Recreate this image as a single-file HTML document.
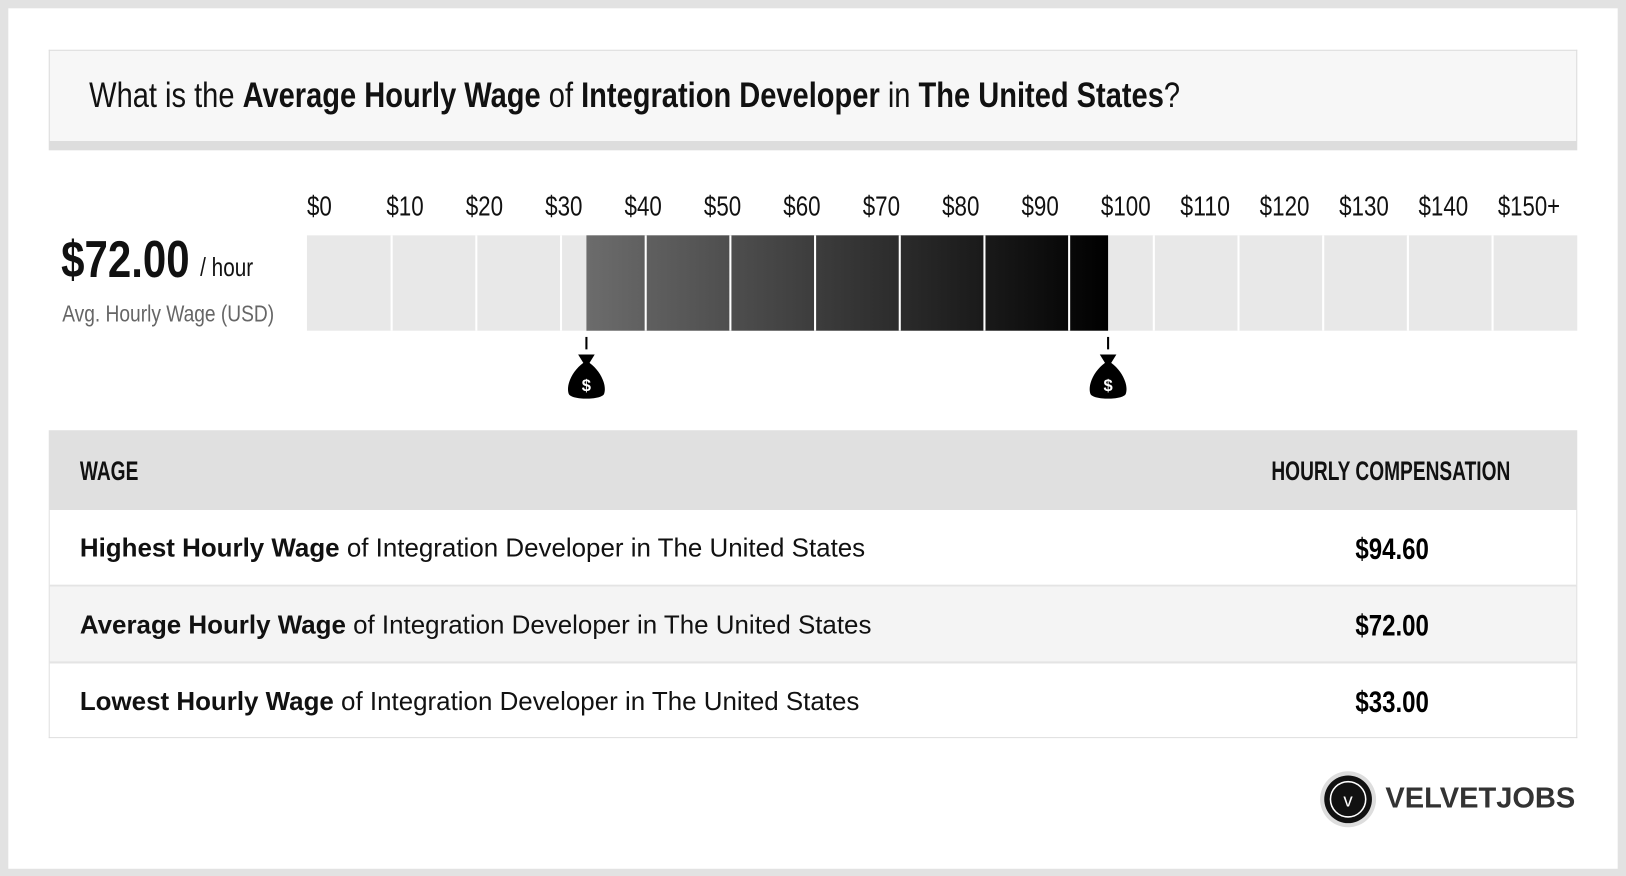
<!DOCTYPE html>
<html><head><meta charset="utf-8">
<style>
html,body{margin:0;padding:0;width:1626px;height:876px;overflow:hidden;background:#fff}
#wrap{position:absolute;left:0;top:0;width:1568px;height:845px;transform-origin:0 0;transform:scale(1.03699,1.03669);background:#e2e2e2}
.n{font-family:"Liberation Sans",sans-serif;transform-origin:0 0;white-space:nowrap}
.s{font-family:"Liberation Sans",sans-serif}
#inner{position:absolute;left:8px;top:8px;width:1552px;height:830px;background:#fff}
.abs{position:absolute}
</style></head><body>
<div id="wrap">
<div id="inner"></div>
<div class="abs" style="left:47px;top:48px;width:1472px;height:87px;background:#f7f7f7;border:1px solid #ddd;border-bottom:none"></div>
<div class="abs" style="left:47px;top:136px;width:1474px;height:9px;background:#ddd"></div>
<div class="abs n" style="left:86px;top:73px;font-size:34px;color:#111;transform:scaleX(0.824)">What is the <b>Average Hourly Wage</b> of <b>Integration Developer</b> in <b>The United States</b>?</div>

<div class="abs n" style="left:59px;top:221px;font-size:50px;font-weight:bold;color:#111;transform:scaleX(0.81)">$72.00</div>
<div class="abs n" style="left:193px;top:244px;font-size:25px;color:#111;transform:scaleX(0.8)">/ hour</div>
<div class="abs n" style="left:60px;top:290px;font-size:22px;color:#666;transform:scaleX(0.84)">Avg. Hourly Wage (USD)</div>

<svg id="chart" class="abs" style="left:0;top:0" width="1568" height="410">
<defs><linearGradient id="g" x1="0" x2="1"><stop offset="0" stop-color="#6c6c6c"/><stop offset="1" stop-color="#000"/></linearGradient></defs>
</svg>

<div class="abs" style="left:47px;top:415px;width:1474px;height:77px;background:#e0e0e0"></div>
<div class="abs n" style="left:77px;top:439px;font-size:26px;font-weight:bold;color:#111;transform:scaleX(0.71)">WAGE</div>
<div class="abs n" style="left:1226px;top:439px;font-size:26px;font-weight:bold;color:#111;transform:scaleX(0.71)">HOURLY COMPENSATION</div>
<div class="abs" style="left:47px;top:492px;width:1472px;height:219px;border:1px solid #ddd;border-top:none">
 <div style="height:72px;border-bottom:2px solid #e4e4e4;background:#fff;position:relative">
  <div class="s" style="position:absolute;left:29px;top:23px;font-size:25px;color:#111;white-space:nowrap"><b>Highest Hourly Wage</b> of Integration Developer in The United States</div>
  <div class="n" style="position:absolute;left:1259px;top:22px;font-size:29px;font-weight:bold;transform:scaleX(0.8)">$94.60</div>
 </div>
 <div style="height:72px;border-bottom:2px solid #e4e4e4;background:#f4f4f4;position:relative">
  <div class="s" style="position:absolute;left:29px;top:23px;font-size:25px;color:#111;white-space:nowrap"><b>Average Hourly Wage</b> of Integration Developer in The United States</div>
  <div class="n" style="position:absolute;left:1259px;top:22px;font-size:29px;font-weight:bold;transform:scaleX(0.8)">$72.00</div>
 </div>
 <div style="height:71px;background:#fff;position:relative">
  <div class="s" style="position:absolute;left:29px;top:23px;font-size:25px;color:#111;white-space:nowrap"><b>Lowest Hourly Wage</b> of Integration Developer in The United States</div>
  <div class="n" style="position:absolute;left:1259px;top:22px;font-size:29px;font-weight:bold;transform:scaleX(0.8)">$33.00</div>
 </div>
</div>

<svg class="abs" style="left:1270px;top:742px" width="60" height="60">
<circle cx="30" cy="29" r="27" fill="#ddd"/><circle cx="30" cy="29" r="23" fill="#111"/><circle cx="30" cy="29" r="17" fill="none" stroke="#fff" stroke-width="1.5"/>
<text x="30" y="36" text-anchor="middle" fill="#fff" font-family="Liberation Sans" font-size="18">v</text></svg>
<div class="abs s" style="left:1336px;top:754px;font-size:28px;font-weight:bold;color:#333">VELVETJOBS</div>
</div>
<script>
const tickLabels=["$0","$10","$20","$30","$40","$50","$60","$70","$80","$90","$100","$110","$120","$130","$140","$150+"];
const maxValue=150;
const segmentStep=10;
const lowWage=33.0;
const highWage=94.6;
const avgWage=72.0;
const svg=document.getElementById('chart');
const NS='http://www.w3.org/2000/svg';
const x0=296,x1=1521,barY=227,barH=92;
const xs=v=>x0+(v/maxValue)*(x1-x0);
function mk(t,a){const e=document.createElementNS(NS,t);for(const k in a)e.setAttribute(k,a[k]);svg.appendChild(e);return e;}
const bg=mk('rect',{x:x0,y:barY,width:x1-x0,height:barH,fill:'#e8e8e8'});


const rg=mk('rect',{x:xs(lowWage),y:barY,width:xs(highWage)-xs(lowWage),height:barH,fill:'url(#g)'});


for(let v=segmentStep;v<maxValue;v+=segmentStep){
 const l=mk('rect',{x:xs(v)-1,y:barY,width:2,height:barH,fill:'#fff'});
 
 
}
const step=(x1-x0)/tickLabels.length;
tickLabels.forEach((t,i)=>{
 const e=mk('text',{x:x0+i*step,y:208,'font-size':27,'font-family':'Liberation Sans, sans-serif',fill:'#111',textLength:t.length*12,lengthAdjust:'spacingAndGlyphs'});
 e.textContent=t;
 
 
});
[[lowWage,'low-wage-marker'],[highWage,'high-wage-marker']].forEach(([v,n])=>{
 const cx=xs(v);
 const g=document.createElementNS(NS,'g');svg.appendChild(g);
 
 
 g.innerHTML=`<rect x="${cx-1}" y="325" width="2" height="12" fill="#000"/>
 <path d="M${cx-8} 342 L${cx+8} 342 L${cx+3} 350 C${cx+14} 358 ${cx+20} 372 ${cx+17} 380 C${cx+14} 386 ${cx-14} 386 ${cx-17} 380 C${cx-20} 372 ${cx-14} 358 ${cx-3} 350 Z" fill="#000"/>
 <text x="${cx}" y="377" text-anchor="middle" fill="#fff" font-family="Liberation Sans" font-weight="bold" font-size="16">$</text>`;
});
</script>
</body></html>
